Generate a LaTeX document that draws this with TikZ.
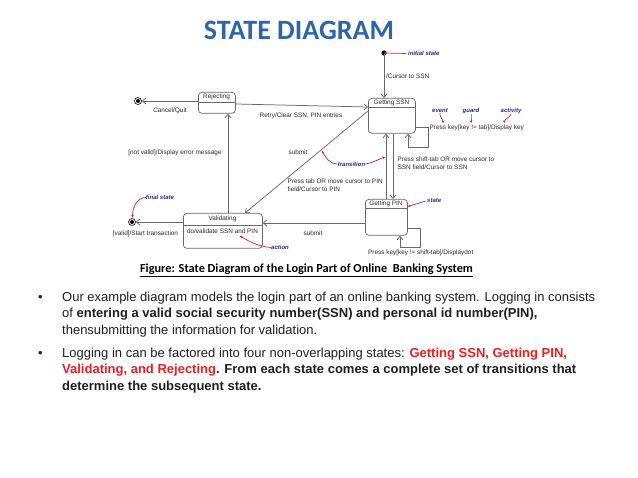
\documentclass[tikz,border=0pt]{standalone}
\usepackage{fontspec}
\setmainfont{Liberation Sans}
\newfontfamily\calibri{Carlito}
\usetikzlibrary{arrows.meta}
\definecolor{titleblue}{RGB}{45,100,170}
\definecolor{linegray}{RGB}{105,105,105}
\definecolor{txtgray}{RGB}{40,40,40}
\definecolor{annblue}{RGB}{40,40,140}
\definecolor{annred}{RGB}{210,30,40}
\definecolor{hilite}{RGB}{235,30,30}
\begin{document}
\begin{tikzpicture}[x=1pt,y=-1pt,
 statebox/.style={draw=linegray, line width=0.75pt, rounded corners=3.5pt, inner sep=0pt, anchor=north west},
 divider/.style={draw=linegray, line width=0.6pt},
 trans/.style={draw=linegray, line width=0.75pt, -{Straight Barb[length=3.5pt,width=6pt]}},
 lbl/.style={font=\fontsize{6.4}{8}\selectfont, text=txtgray, inner sep=0pt, align=left},
 ann/.style={font=\fontsize{6}{7}\selectfont\bfseries\itshape, text=annblue, inner sep=0pt},
 annarrow/.style={draw=annred, line width=0.7pt, -{Stealth[length=2.5pt,width=2.5pt]}},
 body/.style={font=\fontsize{13}{15}\selectfont, text=black!88, inner sep=0pt, anchor=base west},
 finalst/.style={circle, draw=black, line width=0.6pt, minimum size=7pt, inner sep=0pt},
]
\useasboundingbox (0,0) rectangle (638,478);

% title
\node[font=\calibri\bfseries\fontsize{28}{30}\selectfont, text=titleblue, inner sep=0pt] (title) at (299,30) {STATE DIAGRAM};

% initial state
\fill[black] (384,53) circle (2.6pt);
\coordinate (init) at (384,53);

% states
\node[statebox, minimum width=47pt, minimum height=35pt] (ssn) at (368,98) {};
\draw[divider] (ssn.west |- 0,107) -- (ssn.east |- 0,107);
\node[lbl] (ssnT) at (391.5,102.5) {Getting SSN};

\node[statebox, minimum width=42pt, minimum height=36pt] (pin) at (365,199) {};
\draw[divider] (pin.west |- 0,208) -- (pin.east |- 0,208);
\node[lbl] (pinT) at (386,203.5) {Getting PIN};

\node[statebox, minimum width=37pt, minimum height=21pt] (rej) at (198,92) {};
\draw[divider] (rej.west |- 0,102) -- (rej.east |- 0,102);
\node[lbl] (rejT) at (216.5,97) {Rejecting};

\node[statebox, minimum width=79pt, minimum height=35pt] (val) at (183,213) {};
\draw[divider] (val.west |- 0,225) -- (val.east |- 0,225);
\node[lbl] (valT) at (222.5,219) {Validating};
\node[lbl] (valA) at (222.5,231) {do/validate SSN and PIN};

% final states
\node[finalst] (fin1) at (138,101) {};
\fill[black] (fin1) circle (2pt);
\node[finalst] (fin2) at (132,222) {};
\fill[black] (fin2) circle (2pt);

% transitions
\draw[trans] (init) -- (init |- ssn.north);
\node[lbl, anchor=west] (tcur) at (386,76) {/Cursor to SSN};

\coordinate (l1) at (428,127); \coordinate (l2) at (428,147); \coordinate (l3) at (408,147);
\draw[trans] (ssn.east |- l1) -- (l1) -- (l2) -- (l3) -- (l3 |- ssn.south);
\node[lbl, anchor=west] (tkey) at (429.5,127.5) {Press key[key != tab]/Display key};

\draw[trans] (pin.north -| 386,0) -- (ssn.south -| 386,0);
\draw[trans] (ssn.south -| 393,0) -- (pin.north -| 393,0);
\node[lbl, anchor=north west] (tshift) at (397.5,157) {Press shift-tab OR move cursor to\\SSN field/Cursor to SSN};

\coordinate (p1) at (420,228); \coordinate (p2) at (420,247); \coordinate (p3) at (400,247);
\draw[trans] (pin.east |- p1) -- (p1) -- (p2) -- (p3) -- (p3 |- pin.south);
\node[lbl, anchor=west] (tdot) at (368,252.5) {Press key[key != shift-tab]/Displaydot};

\draw[trans] (rej.west |- fin1) -- (fin1);
\node[lbl] (tcancel) at (170,111) {Cancel/Quit};

\draw[trans] (rej.east |- 0,104) -- (ssn.west |- 0,107);
\node[lbl] (tretry) at (301,115.5) {Retry/Clear SSN, PIN entries};

\draw[trans] (val.north -| 228,0) -- (rej.south -| 228,0);
\node[lbl] (tnot) at (175,153) {[not valid]/Display error message};

\draw[trans] (ssn.west |- 0,111) -- (val.north -| 245,0);
\node[lbl] (tsub1) at (298,152) {submit};
\node[lbl, anchor=north west] (ttab) at (287.5,179) {Press tab OR move cursor to PIN\\field/Cursor to PIN};

\draw[trans] (pin.west |- 0,223) -- (val.east |- 0,223);
\node[lbl] (tsub2) at (313,233.5) {submit};

\draw[trans] (val.west |- fin2) -- (fin2);
\node[lbl] (tvalid) at (145.5,234) {[valid]/Start transaction};

% annotations
\node[ann, anchor=west] (ainit) at (408,53.5) {initial state};
\draw[annarrow] (ainit.west) ++(-2,0) coordinate (ai) (ai) -- (init);

\node[ann] (aevent) at (440,111) {event};
\node[ann] (aguard) at (471,111) {guard};
\node[ann] (aact) at (511,111) {activity};
\draw[annarrow] (aevent.south) to[out=-100,in=90] (443,123);
\draw[annarrow] (aguard.south) to[out=-90,in=90] (471,123);
\draw[annarrow] (aact.south) to[out=-110,in=80] (504,123);

\node[ann] (atrans) at (351.5,164) {transition};
\draw[annarrow] (atrans.west) to[out=180,in=-60] (322,151);
\draw[annarrow] (atrans.east) to[out=10,in=-160] (385,157);

\node[ann, anchor=west] (astate) at (427,200.5) {state};
\draw[annarrow] (astate.west) ++(-1.5,0.5) coordinate (as) (as) -- (pin.north east |- 0,206.5);

\node[ann] (afinal) at (160,197.5) {final state};
\draw[annarrow] (afinal.west) to[out=180,in=90] (132.5,217.5);

\node[ann] (aaction) at (280,247.5) {action};
\draw[annarrow] (aaction.west) to[out=175,in=-30] (240,236);

% caption
\node[font=\calibri\bfseries\fontsize{12.3}{14}\selectfont, inner sep=0pt] (cap) at (306.5,270.5) {\underline{Figure: State Diagram of the Login Part of Online\ \ Banking System}};

% bullets
\node[body] (b1) at (38,301.5) {•};
\node[body] (b1l1) at (62,301.5) {Our example diagram models the login part of an online banking system. Logging in consists};
\node[body] (b1l2) at (62,318) {of \textbf{entering a valid social security number(SSN) and personal id number(PIN),}};
\node[body] (b1l3) at (62,334.5) {thensubmitting the information for validation.};
\node[body] (b2) at (38,357.5) {•};
\node[body] (b2l1) at (62,357.5) {Logging in can be factored into four non-overlapping states: \textcolor{hilite}{\textbf{Getting SSN, Getting PIN,}}};
\node[body] (b2l2) at (62,374) {\textcolor{hilite}{\textbf{Validating, and Rejecting}}\textbf{. From each state comes a complete set of transitions that}};
\node[body] (b2l3) at (62,390.5) {\textbf{determine the subsequent state.}};
\end{tikzpicture}
\end{document}
